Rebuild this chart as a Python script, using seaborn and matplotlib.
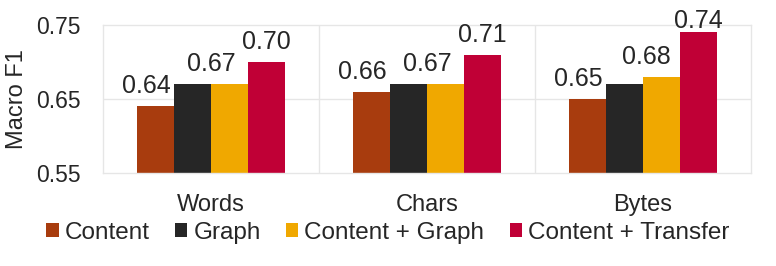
import matplotlib
matplotlib.use("Agg")
import matplotlib.pyplot as plt
import seaborn as sns
import pandas as pd

categories = ["Words", "Chars", "Bytes"]
series = ["Content", "Graph", "Content + Graph", "Content + Transfer"]
content = [0.64, 0.66, 0.65]
graph = [0.67, 0.67, 0.67]
content_graph = [0.67, 0.67, 0.68]
content_transfer = [0.70, 0.71, 0.74]
colors = ["#A83C0E", "#262626", "#F0A800", "#C00036"]
yticks = [0.55, 0.65, 0.75]
ytick_labels = ["0.55", "0.65", "0.75"]

rows = []
for name, vals in zip(series, [content, graph, content_graph, content_transfer]):
    for c, v in zip(categories, vals):
        rows.append({"Category": c, "Model": name, "F1": v})
df = pd.DataFrame(rows)

sns.set_theme(style="white")
plt.rcParams["font.family"] = ["Liberation Sans", "DejaVu Sans"]
text_color = "#262626"
grid_color = "#e6e6e6"

fig = plt.figure(figsize=(7.76, 2.66), dpi=100)
ax = fig.add_axes([103 / 776, 1 - 173 / 266, 648 / 776, 148 / 266])
sns.barplot(data=df, x="Category", y="F1", hue="Model", order=categories,
            hue_order=series, palette=colors, width=0.685, gap=0,
            saturation=1, errorbar=None, linewidth=0, ax=ax)

ymin, ymax = 0.55, 0.75
ax.set_ylim(ymin, ymax)
ax.set_xlim(-0.5, 2.5)
ax.set_yticks(yticks)
ax.set_yticklabels(ytick_labels)
ax.tick_params(axis="both", length=0, colors=text_color)
ax.tick_params(axis="y", pad=16, labelsize=16.5)
ax.tick_params(axis="x", pad=15, labelsize=17)
ax.set_xlabel("")
ax.set_ylabel("Macro F1", fontsize=17, color=text_color, labelpad=6)
for s in ax.spines.values():
    s.set_color(grid_color)
    s.set_linewidth(1)
for y in yticks[1:-1]:
    ax.axhline(y, color=grid_color, lw=1, zorder=0)
for x in [0.5, 1.5]:
    ax.axvline(x, color=grid_color, lw=1, zorder=0)
ax.set_axisbelow(True)

# label placement: baseline ~13 px above bar top, but kept inside plot area
px = (ymax - ymin) / 148.0
gap = 13 * px
cap = ymax - 3 * px


def label(x, v, txt):
    yb = min(v + gap, cap)
    ax.text(x, yb, txt, ha="center", va="baseline", fontsize=18,
            color=text_color, clip_on=False)


c_content, c_graph, c_cg, c_ct = ax.containers[:4]
for j in range(len(categories)):
    b = c_content[j]
    bw = b.get_width()
    label(b.get_x() + bw * 0.5 - 0.24 * bw, content[j], f"{content[j]:.2f}")
    yb = c_cg[j]
    top = max(graph[j], content_graph[j])
    shift = 0.1 * bw if content_graph[j] > graph[j] else 0.0
    label(yb.get_x() + shift, top, f"{content_graph[j]:.2f}")
    r = c_ct[j]
    label(r.get_x() + bw / 2, content_transfer[j], f"{content_transfer[j]:.2f}")

handles, labels = ax.get_legend_handles_labels()
if ax.get_legend() is not None:
    ax.get_legend().remove()
leg = fig.legend(handles, labels, loc="center", bbox_to_anchor=(0.5, 1 - 233 / 266),
                 ncol=4, frameon=False, fontsize=17.5, handlelength=0.5,
                 handleheight=0.5, handletextpad=0.25, columnspacing=1.05,
                 borderaxespad=0, borderpad=0)
for t in leg.get_texts():
    t.set_color(text_color)

fig.savefig("out.png", dpi=100)
